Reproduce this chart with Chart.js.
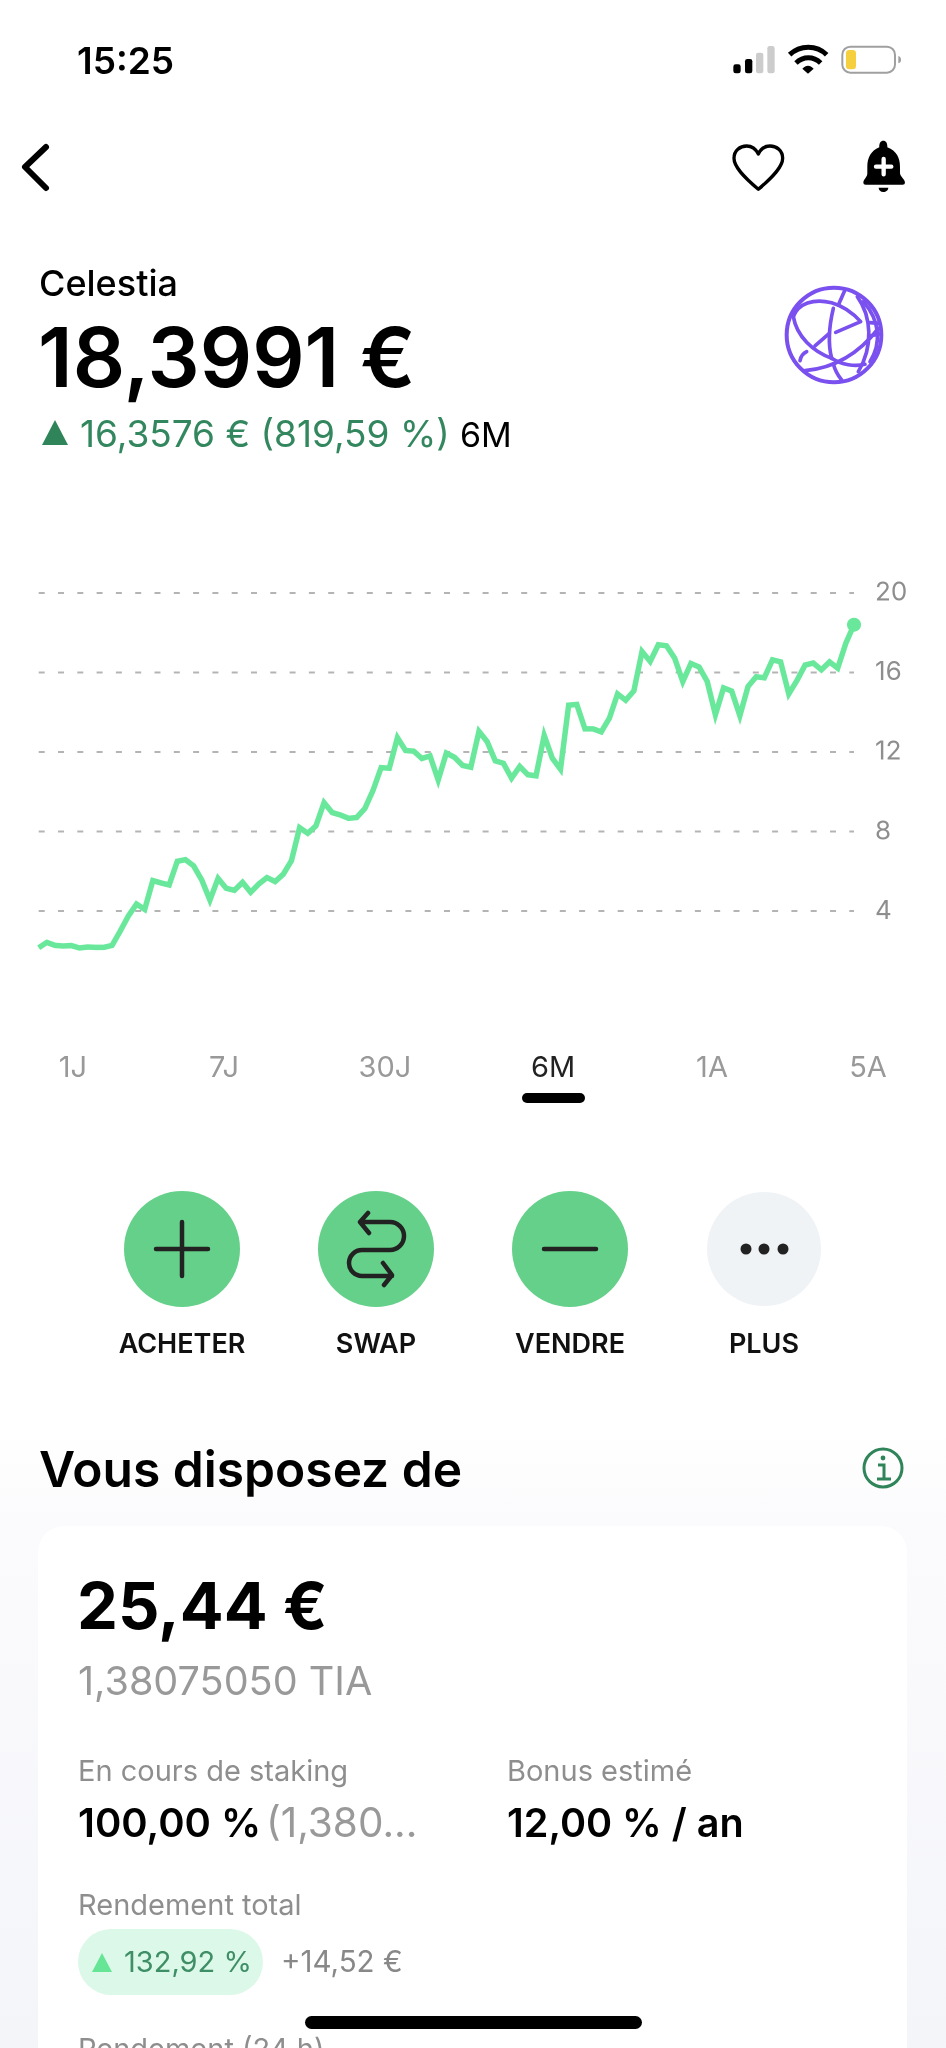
<!DOCTYPE html>
<html lang="fr"><head><meta charset="utf-8">
<script src="https://cdn.jsdelivr.net/npm/chart.js@4"></script>
<style>
html,body{margin:0;padding:0;width:946px;height:2048px;overflow:hidden;background:#fff;font-family:Inter,"Liberation Sans",sans-serif}
#stage{position:absolute;left:0;top:0;width:946px;height:2048px;overflow:hidden;
 background:linear-gradient(to bottom,#fff 0,#fff 1425px,#fbfbfd 1520px,#f4f5f9 2048px)}
#card{position:absolute;left:38px;top:1526px;width:869px;height:560px;background:#fff;border-radius:26px}
#pill{position:absolute;left:78px;top:1929px;width:185px;height:66px;border-radius:33px;background:#dcf8e8}
#bar{position:absolute;left:305px;top:2016px;width:337px;height:13px;border-radius:6.5px;background:#000}
#tab{position:absolute;left:522px;top:1093px;width:63px;height:10px;border-radius:5px;background:#000}
#wrap{position:absolute;left:0;top:560px;width:946px;height:440px}
.t{position:absolute;white-space:nowrap;line-height:1}
svg{position:absolute;left:0;top:0}
</style></head><body>
<div id="stage">
<div id="card"></div><div id="pill"></div><div id="tab"></div>
<div id="wrap"><canvas id="c"></canvas></div>
<svg width="946" height="2048" viewBox="0 0 946 2048" fill="none">
 <g transform="translate(720 30) scale(0.3333)">
  <rect x="40" y="103" width="22" height="27" rx="7" fill="#000"/>
  <rect x="75" y="87" width="22" height="43" rx="7" fill="#000"/>
  <rect x="108" y="68" width="22" height="62" rx="7" fill="#ccc"/>
  <rect x="142" y="48" width="22" height="82" rx="7" fill="#ccc"/>
  <path d="M209 74 C240 44 290 44 320 74" stroke="#000" stroke-width="15"/>
  <path d="M228 99 C250 78 280 78 302 99" stroke="#000" stroke-width="15"/>
  <path d="M247 116 L264 131 L281 116 C270 104 258 104 247 116Z" fill="#000"/>
  <rect x="367" y="50" width="158" height="78" rx="24" stroke="#a0a0a0" stroke-width="6"/>
  <rect x="378" y="60" width="30" height="58" rx="10" fill="#f5cf3d"/>
  <path d="M535 78 C545 80 547 98 535 100Z" fill="#a0a0a0"/>
  <path d="M115 478 C70 440 42 410 42 385 C42 362 60 348 80 348 C95 348 108 358 115 372 C122 358 135 348 150 348 C170 348 188 362 188 385 C188 410 160 440 115 478Z" stroke="#000" stroke-width="10" stroke-linejoin="round"/>
  <path d="M490 332 C498 332 503 340 502 352 C530 362 540 385 540 410 L540 430 C542 442 555 448 555 458 Q555 464 548 464 L437 464 Q430 464 430 458 C430 448 442 442 442 430 L442 410 C442 385 452 362 478 352 C477 340 482 332 490 332Z" fill="#000"/>
  <path d="M476 473 H505 C505 480 498 486 490 486 C482 486 476 480 476 473Z" fill="#000"/>
  <path d="M491 387 V433 M468 410 H514" stroke="#fff" stroke-width="13" stroke-linecap="round"/>
 </g>
 <path d="M46 147 L25 167 L46 188" stroke="#000" stroke-width="6" stroke-linecap="round" stroke-linejoin="round"/>
 <g transform="translate(770 270) scale(0.3333)" stroke="#7a50ef" stroke-width="11" stroke-linecap="round" stroke-linejoin="round">
  <circle cx="192" cy="195" r="142" stroke-width="12"/>
  <path d="M70 140 C85 100 130 85 185 98 C220 108 250 130 272 155 L197 187"/>
  <path d="M70 140 C80 200 130 245 185 265"/>
  <path d="M190 115 C178 165 172 215 185 265"/>
  <path d="M178 190 L135 228"/>
  <path d="M110 245 C100 250 92 260 90 272"/>
  <path d="M105 302 C180 295 260 260 325 175"/>
  <path d="M225 60 C218 75 212 90 205 105"/>
  <path d="M262 80 C305 140 310 230 265 305"/>
  <path d="M280 95 C330 150 335 220 300 275"/>
  <path d="M185 265 C215 285 255 290 285 283"/>
  <path d="M190 282 C195 300 205 318 215 330"/>
  <path d="M300 158 L328 160 M300 198 L328 192"/>
 </g>
 <path d="M42 445 L55 420 L68 445Z" fill="#2f8559"/>
 <circle cx="182" cy="1249" r="58" fill="#65d08a"/>
 <circle cx="376" cy="1249" r="58" fill="#65d08a"/>
 <circle cx="570" cy="1249" r="58" fill="#65d08a"/>
 <circle cx="764" cy="1249" r="57" fill="#f0f3f6"/>
 <path d="M182 1222 V1276 M156 1249 H208" stroke="#222" stroke-width="4.5" stroke-linecap="round"/>
 <path d="M361 1222 H390 A14 14 0 0 1 390 1250 H362 A13 13 0 0 0 362 1276 H392 M368 1213 L360 1222 L369 1233 M383 1263 L392 1275 L384 1285" stroke="#222" stroke-width="4.5" stroke-linecap="round" stroke-linejoin="round"/>
 <path d="M544 1249 H596" stroke="#222" stroke-width="4.5" stroke-linecap="round"/>
 <circle cx="746" cy="1249" r="5.5" fill="#222"/><circle cx="764" cy="1249" r="5.5" fill="#222"/><circle cx="783" cy="1249" r="5.5" fill="#222"/>
 <circle cx="883" cy="1468" r="19" stroke="#2f8559" stroke-width="3"/>
 <circle cx="883" cy="1458" r="2.4" fill="#2f8559"/>
 <path d="M878 1465 H884 V1479 M877 1479 H891" stroke="#2f8559" stroke-width="3"/>
 <path d="M92 1972 L102 1953 L112 1972Z" fill="#66e596"/>
</svg>
<div id="bar"></div>
</div>
<script>
const priceValues = [
 2.15,2.42,2.27,2.24,2.26,2.14,2.19,2.17,2.17,2.27,
 2.99,3.75,4.35,4.08,5.53,5.41,5.31,6.50,6.58,6.27,
 5.56,4.55,5.64,5.14,5.04,5.44,4.94,5.36,5.68,5.48,
 5.85,6.53,8.19,7.91,8.28,9.45,8.95,8.83,8.66,8.70,
 9.15,10.06,11.21,11.18,12.72,12.07,12.04,11.67,11.80,10.59,
 11.94,11.73,11.32,11.23,13.03,12.52,11.55,11.43,10.68,11.27,
 10.85,10.80,12.83,11.68,11.13,14.35,14.39,13.16,13.16,13.01,
 13.70,14.92,14.60,15.07,17.05,16.55,17.39,17.34,16.72,15.54,
 16.45,16.27,15.54,13.87,15.22,15.06,13.82,15.29,15.78,15.73,
 16.63,16.53,14.92,15.59,16.37,16.47,16.13,16.53,16.21,17.47,
 18.40
];
const pointLabels = priceValues.map((_, i) => String(i));
const yTicks = [4, 8, 12, 16, 20];
const periods = ['1J','7J','30J','6M','1A','5A'];
const actions = ['ACHETER','SWAP','VENDRE','PLUS'];

const stage = document.getElementById('stage');
function text(s, x, base, size, weight, color, anchor, spacing){
  const d = document.createElement('div');
  d.className = 't';
  d.textContent = s;
  d.style.cssText += `font-size:${size}px;font-weight:${weight};color:${color};top:${base-0.864*size}px;`
    + (anchor==='c' ? `left:${x}px;transform:translateX(-50%);` : `left:${x}px;`)
    + (spacing ? `letter-spacing:${spacing}px;` : '');
  stage.appendChild(d);
}
text('15:25',77,74,37,600,'#000');
text('Celestia',39,296,36,500,'#000');
text('18,3991 €',38,388,82,600,'#000');
text('16,3576 € (819,59 %)',80,447,37,400,'#33875e');
text('6M',460,447,34,400,'#000');
const periodX=[73,224,385,553,712,868];
periods.forEach((p,i)=>text(p,periodX[i],1077,29,400,p==='6M'?'#222':'#999','c'));
const actionX=[182,376,570,764];
actions.forEach((a,i)=>text(a,actionX[i],1353,27,600,'#111','c'));
text('Vous disposez de',39,1488,49.7,600,'#000');
text('25,44 €',77,1629,65,700,'#000');
text('1,38075050 TIA',78,1696,39.6,400,'#999');
text('En cours de staking',78,1781,29,400,'#8e8e8e');
text('Bonus estimé',507,1781,29,400,'#8e8e8e');
text('100,00 %',78,1838,40,600,'#000');
text('(1,380...',266,1838,40.5,400,'#999');
text('12,00 % / an',507,1838,39.6,600,'#000');
text('Rendement total',78,1915,29,400,'#8e8e8e');
text('132,92 %',124,1972,29,400,'#3e8e66');
text('+14,52 €',281,1972,29.5,400,'#888');
text('Rendement (24 h)',78,2059,29,400,'#8e8e8e');

const last = priceValues.length - 1;
new Chart(document.getElementById('c'), {
  type: 'line',
  data: { labels: pointLabels, datasets: [{
    data: priceValues,
    borderColor: '#69e89b',
    backgroundColor: '#69e89b',
    borderWidth: 5.5,
    tension: 0,
    clip: false,
    pointRadius: ctx => ctx.dataIndex === last ? 7 : 0,
    pointHoverRadius: 0,
    pointBackgroundColor: '#69e89b',
    pointBorderWidth: 0
  }]},
  options: {
    responsive: true, maintainAspectRatio: false, animation: false,
    devicePixelRatio: 2,
    layout: { padding: { left: 38.7, right: 0, top: 13, bottom: 9.5 } },
    plugins: { legend: { display: false }, tooltip: { enabled: false } },
    scales: {
      x: { display: false, offset: false },
      y: {
        position: 'right', min: 0, max: 21,
        afterFit: s => { s.width = 92; s.paddingTop = 0; s.paddingBottom = 0; },
        afterBuildTicks: s => { s.ticks = yTicks.map(value => ({ value })); },
        border: { display: false, dash: [6, 13.3] },
        grid: { color: '#b4b4b4', lineWidth: 2, drawTicks: false },
        ticks: { padding: 21, color: '#8e8e8e', font: { family: 'Inter', size: 26 } }
      }
    }
  }
});
</script>
</body></html>
